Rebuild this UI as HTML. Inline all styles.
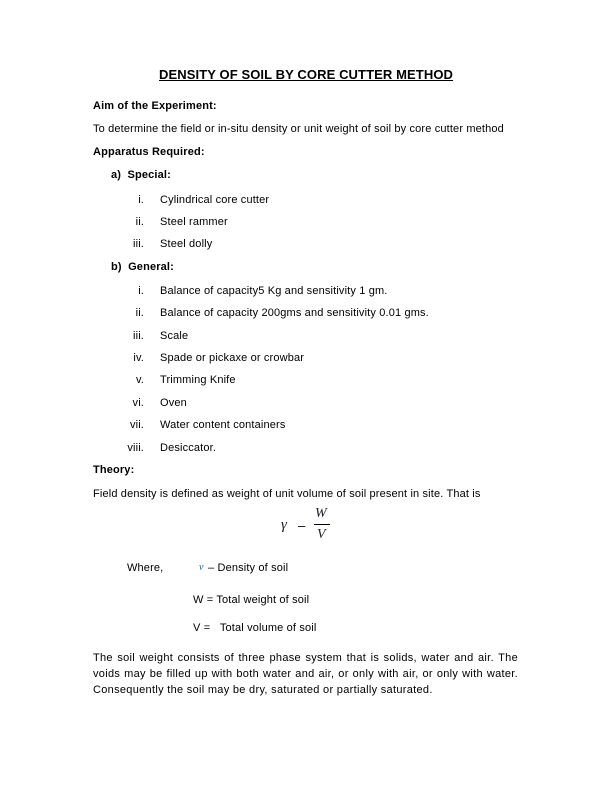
<!DOCTYPE html>
<html><head><style>
body{margin:0;width:612px;height:792px;background:#fff;position:relative;font-family:"Liberation Sans",sans-serif;font-size:11px;color:#000;letter-spacing:0.15px}
div{position:absolute;line-height:14px;white-space:nowrap}
.b{font-weight:bold}
.r{text-align:right;width:40px}
</style></head><body>
<div class="b" style="top:68px;left:0;width:612px;text-align:center;font-size:13px;text-decoration:underline;letter-spacing:0.1px">DENSITY OF SOIL BY CORE CUTTER METHOD</div>
<div class="b" style="top:99px;left:93px">Aim of the Experiment:</div>
<div style="top:122px;left:93px">To determine the field or in-situ density or unit weight of soil by core cutter method</div>
<div class="b" style="top:145px;left:93px">Apparatus Required:</div>
<div class="b" style="top:168px;left:111px">a)&nbsp; Special:</div>
<div class="r" style="top:193px;left:104px">i.</div><div style="top:193px;left:160px">Cylindrical core cutter</div>
<div class="r" style="top:215px;left:104px">ii.</div><div style="top:215px;left:160px">Steel rammer</div>
<div class="r" style="top:237px;left:104px">iii.</div><div style="top:237px;left:160px">Steel dolly</div>
<div class="b" style="top:260px;left:111px">b)&nbsp; General:</div>
<div class="r" style="top:284px;left:104px">i.</div><div style="top:284px;left:160px">Balance of capacity5 Kg and sensitivity 1 gm.</div>
<div class="r" style="top:306px;left:104px">ii.</div><div style="top:306px;left:160px">Balance of capacity 200gms and sensitivity 0.01 gms.</div>
<div class="r" style="top:329px;left:104px">iii.</div><div style="top:329px;left:160px">Scale</div>
<div class="r" style="top:351px;left:104px">iv.</div><div style="top:351px;left:160px">Spade or pickaxe or crowbar</div>
<div class="r" style="top:373px;left:104px">v.</div><div style="top:373px;left:160px">Trimming Knife</div>
<div class="r" style="top:396px;left:104px">vi.</div><div style="top:396px;left:160px">Oven</div>
<div class="r" style="top:418px;left:104px">vii.</div><div style="top:418px;left:160px">Water content containers</div>
<div class="r" style="top:441px;left:104px">viii.</div><div style="top:441px;left:160px">Desiccator.</div>
<div class="b" style="top:463px;left:93px">Theory:</div>
<div style="top:487px;left:93px">Field density is defined as weight of unit volume of soil present in site. That is</div>
<div style="top:518px;left:281px;font-family:'Liberation Serif',serif;font-style:italic;font-size:15px;color:#223">γ</div>
<div style="top:519px;left:298px;font-size:13px">–</div>
<div style="top:507px;left:315px;font-family:'Liberation Serif',serif;font-style:italic;font-size:14px;color:#223">W</div>
<div style="top:524px;left:314px;width:16px;height:1px;background:#000"></div>
<div style="top:528px;left:317px;font-family:'Liberation Serif',serif;font-style:italic;font-size:14px;color:#223">V</div>
<div style="top:561px;left:127px">Where,</div>
<div style="top:561px;left:199px;font-family:'Liberation Serif',serif;font-style:italic;font-size:10px;color:#1a5fb4">ν</div>
<div style="top:561px;left:208px">– Density of soil</div>
<div style="top:593px;left:193px">W = Total weight of soil</div>
<div style="top:621px;left:193px">V = &nbsp;&nbsp;Total volume of soil</div>
<div style="top:650px;left:93px;width:425px;white-space:normal;text-align:justify;line-height:16px;letter-spacing:0.3px">The soil weight consists of three phase system that is solids, water and air. The voids may be filled up with both water and air, or only with air, or only with water. Consequently the soil may be dry, saturated or partially saturated.</div>
</body></html>
